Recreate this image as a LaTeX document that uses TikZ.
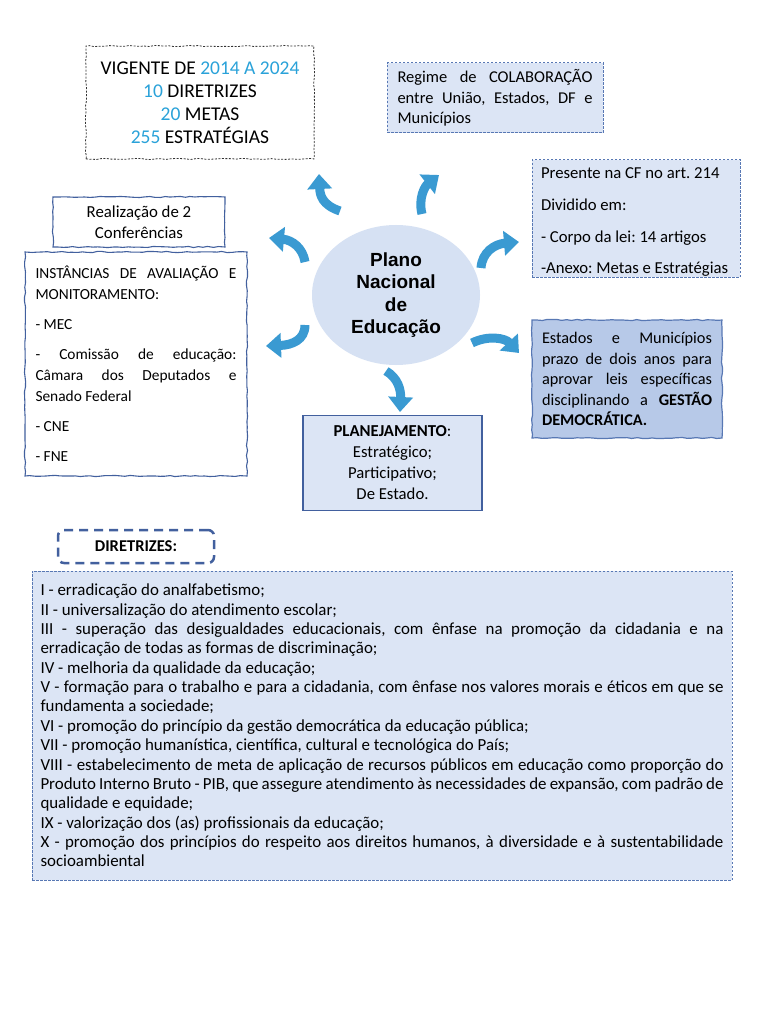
\documentclass[tikz,border=0pt]{standalone}
\usepackage{fontspec}
\setmainfont{Carlito}
\newfontfamily\arialfont{Liberation Sans}
\usetikzlibrary{arrows.meta,decorations.pathmorphing,shapes.geometric}
\definecolor{cyantext}{HTML}{2AA2D9}
\definecolor{lightfill}{HTML}{DCE5F5}
\definecolor{midfill}{HTML}{B7C9E8}
\definecolor{ellfill}{HTML}{D6E1F3}
\definecolor{boxline}{HTML}{42609E}
\definecolor{dashline}{HTML}{5878B4}
\definecolor{arrowblue}{HTML}{3A9AD2}
\newcommand\ns{\spaceskip=0pt\xspaceskip=0pt\relax}
\newcommand\jl[2]{\leavevmode\hbox to #1{\ns #2}}
\newcommand\cl[1]{\mbox{\ns #1}}
\newcommand\cy[1]{{\color{cyantext}#1}}
\frenchspacing
\tikzset{
  wavy/.style={decorate,decoration={random steps,segment length=5pt,amplitude=0.6pt}},
  plainbox/.style={draw=boxline,line width=1.1pt,inner sep=0pt,wavy},
  dashbox/.style={draw=dashline,line width=1pt,dash pattern=on 2.5pt off 1.5pt,fill=lightfill,inner sep=0pt},
  flow/.style={line width=9pt,draw=arrowblue,-{Triangle[width=24pt,length=15pt]}},
}
\begin{document}
\begin{tikzpicture}[x=1pt,y=-1pt]
\useasboundingbox[fill=white] (0,0) rectangle (768,1024);

% top-left box
\node[draw=black!80,line width=0.8pt,dash pattern=on 2pt off 1.5pt,wavy,inner sep=0pt,
      minimum width=228pt,minimum height=113pt,text width=220pt,align=center,
      font=\fontsize{19.5}{23}\selectfont] (vig) at (200,102.5)
  {\cl{VIGENTE DE \cy{2014 A 2024}}\\ \cl{\cy{10} DIRETRIZES}\\ \cl{\cy{20} METAS}\\ \cl{\cy{255} ESTRATÉGIAS}};

% regime box
\node[dashbox,minimum width=216pt,minimum height=70pt,text width=195pt,align=left,
      font=\fontsize{16.5}{20.5}\selectfont] (reg) at (495,98)
  {\jl{195pt}{Regime de COLABORAÇÃO}\\ \jl{195pt}{entre União, Estados, DF e}\\ \cl{Municípios}};

% realizacao box
\node[plainbox,fill=white,minimum width=172pt,minimum height=50pt,text width=165pt,align=center,
      font=\fontsize{16.8}{21}\selectfont] (real) at (139,222)
  {\cl{Realização de 2}\\ \cl{Conferências}};

% instancias box
\node[plainbox,fill=white,minimum width=222pt,minimum height=224pt,text width=201pt,align=left,
      font=\fontsize{15.4}{21}\selectfont] (inst) at (136,364)
  {\jl{201pt}{INSTÂNCIAS DE AVALIAÇÃO E}\\ \cl{MONITORAMENTO:}\\[9pt]
   \cl{- MEC}\\[9pt]
   \jl{201pt}{- Comissão de educação:}\\ \jl{201pt}{Câmara dos Deputados e}\\ \cl{Senado Federal}\\[9pt]
   \cl{- CNE}\\[9pt]
   \cl{- FNE}};

% central ellipse
\node[ellipse,fill=ellfill,minimum width=168pt,minimum height=140pt,inner sep=0pt,align=center,
      font=\arialfont\bfseries\fontsize{19}{22.5}\selectfont] (pne) at (396,295)
  {Plano\\ Nacional\\ de\\ Educação};

% presente box
\node[dashbox,minimum width=208pt,minimum height=117pt] (pres) at (636,218.5) {};
\node[inner sep=0pt,text width=190pt,align=left,font=\fontsize{16.7}{20}\selectfont] (prestxt)
  at ([yshift=-4pt]pres.center)
  {\cl{Presente na CF no art. 214}\\[12pt] \cl{Dividido em:}\\[12pt] \cl{- Corpo da lei: 14 artigos}\\[11pt] \cl{-Anexo: Metas e Estratégias}};

% estados box
\node[draw=dashline,line width=1.2pt,wavy,fill=midfill,inner sep=0pt,minimum width=190pt,minimum height=118pt,
      text width=170pt,align=left,font=\fontsize{16.3}{20.5}\selectfont] (est) at (627,379)
  {\jl{170pt}{Estados e Municípios}\\ \jl{170pt}{prazo de dois anos para}\\ \jl{170pt}{aprovar leis específicas}\\
   \jl{170pt}{disciplinando a \textbf{GESTÃO}}\\ \cl{\textbf{DEMOCRÁTICA.}}};

% planejamento box
\node[draw=boxline,line width=1.1pt,fill=lightfill,inner sep=0pt,minimum width=179pt,minimum height=95pt,
      text width=170pt,align=center,font=\fontsize{16.7}{21}\selectfont] (plan) at (392.5,463)
  {\cl{\textbf{PLANEJAMENTO}:}\\ \cl{Estratégico;}\\ \cl{Participativo;}\\ \cl{De Estado.}};

% diretrizes label
\node[draw=boxline,line width=2.5pt,dash pattern=on 9pt off 6pt,rounded corners=6pt,inner sep=0pt,
      minimum width=156pt,minimum height=33pt,font=\bfseries\fontsize{16.5}{19}\selectfont] (dirl) at (136,546.5)
  {DIRETRIZES:};

% big box
\node[dashbox,minimum width=700pt,minimum height=309pt,text width=683pt,align=left,
      font=\fontsize{16.9}{19.36}\selectfont] (dir) at (382,725.5)
  {\cl{I - erradicação do analfabetismo;}\\
   \cl{II - universalização do atendimento escolar;}\\
   \jl{683pt}{III - superação das desigualdades educacionais, com ênfase na promoção da cidadania e na}\\
   \cl{erradicação de todas as formas de discriminação;}\\
   \cl{IV - melhoria da qualidade da educação;}\\
   \jl{683pt}{V - formação para o trabalho e para a cidadania, com ênfase nos valores morais e éticos em que se}\\
   \cl{fundamenta a sociedade;}\\
   \cl{VI - promoção do princípio da gestão democrática da educação pública;}\\
   \cl{VII - promoção humanística, científica, cultural e tecnológica do País;}\\
   \jl{683pt}{VIII - estabelecimento de meta de aplicação de recursos públicos em educação como proporção do}\\
   \jl{683pt}{Produto Interno Bruto - PIB, que assegure atendimento às necessidades de expansão, com padrão de}\\
   \cl{qualidade e equidade;}\\
   \cl{IX - valorização dos (as) profissionais da educação;}\\
   \jl{683pt}{X - promoção dos princípios do respeito aos direitos humanos, à diversidade e à sustentabilidade}\\
   \cl{socioambiental}};

% arrows
\coordinate (a1s) at (340,211); \coordinate (a1e) at (319,174);
\coordinate (a2s) at (422,214); \coordinate (a2e) at (439,175);
\coordinate (a3s) at (305,262); \coordinate (a3e) at (269,238);
\coordinate (a4s) at (481,268); \coordinate (a4e) at (519,242);
\coordinate (a5s) at (305,325); \coordinate (a5e) at (266,346);
\coordinate (a6s) at (472,343); \coordinate (a6e) at (519,353);
\coordinate (a7s) at (386,371); \coordinate (a7e) at (400,412);

\draw[flow] (a1s) .. controls (322,205) and (320,195) .. (a1e);
\draw[flow] (a2s) .. controls (418,198) and (425,186) .. (a2e);
\draw[flow] (a3s) .. controls (303,248) and (292,240) .. (a3e);
\draw[flow] (a4s) .. controls (482,252) and (495,244) .. (a4e);
\draw[flow] (a5s) .. controls (305,340) and (292,345) .. (a5e);
\draw[flow] (a6s) .. controls (488,335) and (505,338) .. (a6e);
\draw[flow] (a7s) .. controls (398,378) and (401,390) .. (a7e);
\end{tikzpicture}
\end{document}
